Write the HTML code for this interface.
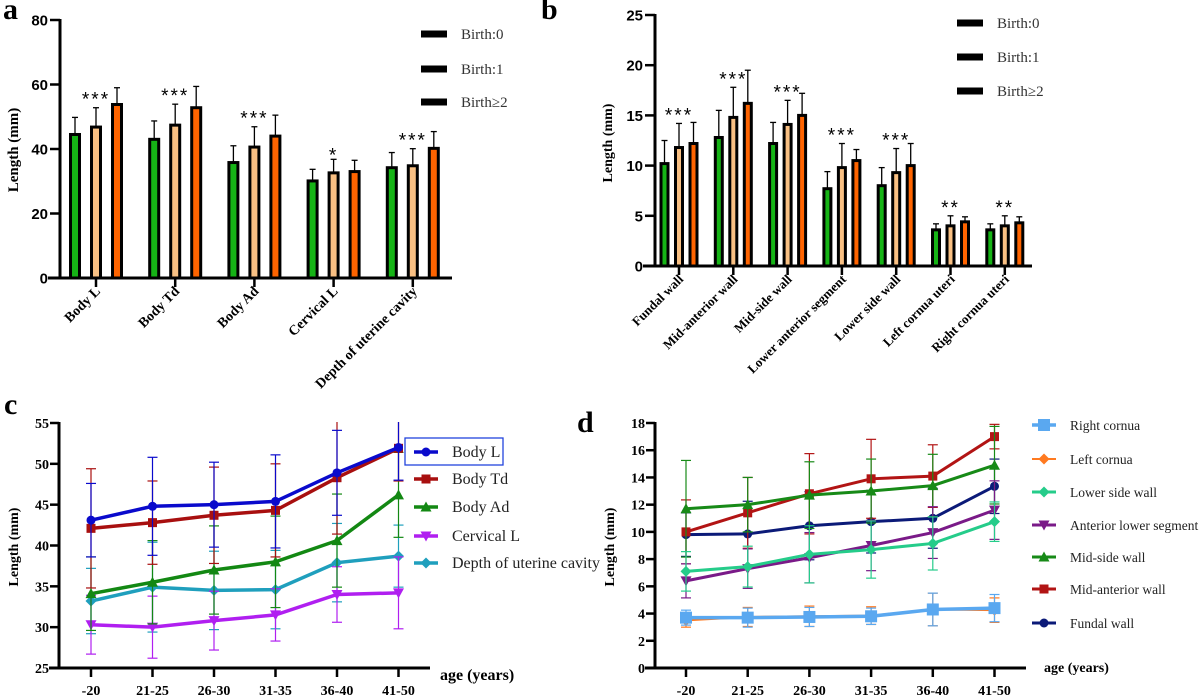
<!DOCTYPE html>
<html><head><meta charset="utf-8"><style>
body{margin:0;background:#fff}
svg{display:block}
.tk{font-family:"Liberation Sans",sans-serif;font-weight:bold}
.sf{font-family:"Liberation Serif",serif}
</style></head><body>
<svg id="s" width="1200" height="698" viewBox="0 0 1200 698" xmlns="http://www.w3.org/2000/svg"></svg>
<script>
// Panel a data
const aCats=["Body L","Body Td","Body Ad","Cervical L","Depth of uterine cavity"];
const aB0=[44.5,43,35.8,30.1,34.2];
const aB1=[46.8,47.4,40.6,32.6,34.8];
const aB2=[53.8,52.8,44,33,40.2];
const aE0=[5.3,5.7,5.2,3.6,4.7];
const aE1=[6,6.5,6.3,4.2,5.3];
const aE2=[5.2,6.6,6.5,3.5,5.2];
const aStars=["***","***","***","*","***"];
const aTicks=[0,20,40,60,80];
// Panel b data
const bCats=["Fundal wall","Mid-anterior wall","Mid-side wall","Lower anterior segment","Lower side wall","Left cornua uteri","Right cornua uteri"];
const bB0=[10.2,12.8,12.2,7.7,8,3.6,3.6];
const bB1=[11.8,14.8,14.1,9.8,9.3,4,4];
const bB2=[12.2,16.2,15,10.5,10,4.4,4.3];
const bE0=[2.3,2.7,2.1,1.7,1.8,0.6,0.6];
const bE1=[2.4,3,2.4,2.4,2.4,1,1];
const bE2=[2.1,3.3,2.2,1.1,2.2,0.5,0.6];
const bStars=["***","***","***","***","***","**","**"];
const bTicks=[0,5,10,15,20,25];
// Panel c data
const ages=["-20","21-25","26-30","31-35","36-40","41-50"];
const cNames=["Body L","Body Td","Body Ad","Cervical L","Depth of uterine cavity"];
const cBodyL=[43.1,44.8,45.0,45.4,48.9,52.0];
const cBodyLE=[4.5,6.0,5.2,5.7,5.2,4];
const cBodyTd=[42.1,42.8,43.7,44.3,48.3,51.9];
const cBodyTdE=[7.3,5.1,5.9,5.7,6.9,4];
const cBodyAd=[34.1,35.5,37.0,38.0,40.6,46.2];
const cBodyAdE=[4.5,5.1,5.4,5.6,5.7,5.2];
const cCerv=[30.3,30.0,30.8,31.5,34.0,34.2];
const cCervE=[3.6,3.8,3.6,3.2,3.4,4.4];
const cDepth=[33.2,34.9,34.5,34.6,37.9,38.7];
const cDepthE=[4,5.5,4.8,4.8,4.8,3.8];
const cTicks=[25,30,35,40,45,50,55];
// Panel d data
const dNames=["Right cornua","Left cornua","Lower side wall","Anterior lower segment","Mid-side wall","Mid-anterior wall","Fundal wall"];
const dRight=[3.7,3.7,3.75,3.8,4.3,4.4];
const dRightE=[0.55,0.7,0.7,0.6,1.2,1.0];
const dLeft=[3.5,3.75,3.8,3.85,4.3,4.25];
const dLeftE=[0.5,0.7,0.75,0.65,1.2,0.9];
const dLower=[7.1,7.45,8.35,8.7,9.15,10.75];
const dLowerE=[1.45,1.5,2.1,2.1,1.95,1.45];
const dAnt=[6.4,7.3,8.1,9.0,9.95,11.6];
const dAntE=[1.25,1.45,1.85,1.85,1.9,2.15];
const dMidS=[11.7,12.0,12.7,13.0,13.4,14.9];
const dMidSE=[3.55,2.0,2.45,2.35,2.3,2.85];
const dMidA=[10.0,11.4,12.8,13.9,14.1,17.0];
const dMidAE=[2.35,2.6,2.95,2.9,2.3,0.9];
const dFund=[9.8,9.85,10.45,10.75,11.0,13.35];
const dFundE=[1.6,2.4,2.5,2.3,2.2,2.0];
const dTicks=[0,2,4,6,8,10,12,14,16,18];

const S=document.getElementById('s');
const NS="http://www.w3.org/2000/svg";
function mk(tag,attrs,parent){const e=document.createElementNS(NS,tag);for(const k in attrs)e.setAttribute(k,attrs[k]);(parent||S).appendChild(e);return e;}
function txt(str,attrs,parent){const e=mk('text',attrs,parent);e.textContent=str;return e;}

// panel letters
[["a",3,19],["b",541,19],["c",4,414],["d",577,432]].forEach(p=>{
 const t=txt(p[0],{x:p[1],y:p[2],class:'sf','font-weight':'bold','font-size':'30'});
 
 
});

function yTitle(x,cy,size){const t=txt("Length (mm)",{x:x,y:cy,class:'sf','font-weight':'bold','font-size':size,'text-anchor':'middle',transform:`rotate(-90 ${x} ${cy})`});
 
 }

// ---------- bar panels ----------
function barPanel(cfg){
 const g=mk('g',{});
 
 
 const y=v=>cfg.y0-(v-cfg.min)/(cfg.max-cfg.min)*(cfg.y0-cfg.y1);
 const x=i=>cfg.x0+i*cfg.step;
 const cols=["#16b416","#f9c083","#ff6400"];
 const series=[cfg.s0,cfg.s1,cfg.s2], errs=[cfg.e0,cfg.e1,cfg.e2];
 cfg.cats.forEach((c,i)=>{
  series.forEach((s,k)=>{
   const cx=x(i)+(k-1)*cfg.off, top=y(s[i]), et=y(s[i]+errs[k][i]);
   const el=mk('line',{x1:cx,x2:cx,y1:top,y2:et,stroke:'#000','stroke-width':1.3},g);
   
   
   mk('line',{x1:cx-3,x2:cx+3,y1:et,y2:et,stroke:'#000','stroke-width':1.3},g);
   const r=mk('rect',{x:cx-cfg.bw/2+1.5,y:top,width:cfg.bw-3,height:cfg.y0-top,fill:cols[k],stroke:'#000','stroke-width':3},g);
   
   
  });
  const hi=Math.max(cfg.s1[i]+cfg.e1[i],cfg.s0[i]+cfg.e0[i]);
  const st=txt(cfg.stars[i],{x:x(i),y:y(hi)-2+(cfg.stars[i]=="*"?4:0),'text-anchor':'middle','font-family':'"Liberation Sans",sans-serif','font-size':19,'letter-spacing':'2'},g);
  
  
  mk('line',{x1:x(i),x2:x(i),y1:cfg.y0,y2:cfg.y0+9,stroke:'#000','stroke-width':2.5},g);
  const lx=x(i)+5, ly=cfg.y0+14;
  const lt=txt(c,{x:lx,y:ly,class:'sf','font-weight':'bold','font-size':cfg.fs,'text-anchor':'end',transform:`rotate(-45 ${lx} ${ly})`},g);
  
  
 });
 mk('line',{x1:cfg.ax,x2:cfg.ax,y1:cfg.y1-1,y2:cfg.y0+1.5,stroke:'#000','stroke-width':3},g);
 mk('line',{x1:cfg.ax-12,x2:cfg.xend,y1:cfg.y0,y2:cfg.y0,stroke:'#000','stroke-width':3},g);
 cfg.ticks.forEach(t=>{
  mk('line',{x1:cfg.ax-10,x2:cfg.ax,y1:y(t),y2:y(t),stroke:'#000','stroke-width':2.5},g);
  const tl=txt(t,{x:cfg.ax-12,y:y(t)+5.5,class:'tk','text-anchor':'end','font-size':15},g);
  
  
 });
 ["Birth:0","Birth:1","Birth≥2"].forEach((n,k)=>{
  const ly=cfg.ly[k];
  const lg=mk('g',{},g);
  
  
  mk('rect',{x:cfg.lx,y:ly-3.5,width:26,height:7,fill:'#000'},lg);
  txt(n,{x:cfg.lx+40,y:ly+5,class:'sf','font-size':15,fill:'#333'},lg);
 });
}
barPanel({name:'panel-a-bar-chart',cats:aCats,s0:aB0,s1:aB1,s2:aB2,e0:aE0,e1:aE1,e2:aE2,stars:aStars,ticks:aTicks,min:0,max:80,y0:278,y1:20,x0:96,step:79.2,off:21,bw:12,ax:60,xend:452,fs:14,lx:421,ly:[34,69,102]});
yTitle(18,150,15);
barPanel({name:'panel-b-bar-chart',cats:bCats,s0:bB0,s1:bB1,s2:bB2,e0:bE0,e1:bE1,e2:bE2,stars:bStars,ticks:bTicks,min:0,max:25,y0:266,y1:15,x0:679,step:54.3,off:14.5,bw:10,ax:655,xend:1032,fs:13,lx:957,ly:[23,57,91]});
yTitle(612,143,14);

// ---------- line panels ----------
function marker(g,type,cx,cy,col,sz){
 let e;
 if(type=='circle')e=mk('circle',{cx,cy,r:sz,fill:col},g);
 else if(type=='square')e=mk('rect',{x:cx-sz,y:cy-sz,width:2*sz,height:2*sz,fill:col},g);
 else if(type=='up')e=mk('polygon',{points:`${cx},${cy-sz-1} ${cx-sz-1},${cy+sz} ${cx+sz+1},${cy+sz}`,fill:col},g);
 else if(type=='down')e=mk('polygon',{points:`${cx},${cy+sz+1} ${cx-sz-1},${cy-sz} ${cx+sz+1},${cy-sz}`,fill:col},g);
 else e=mk('polygon',{points:`${cx},${cy-sz-1} ${cx+sz+1},${cy} ${cx},${cy+sz+1} ${cx-sz-1},${cy}`,fill:col},g);
 return e;
}
function linePanel(cfg){
 const g=mk('g',{});
 
 
 const y=v=>cfg.y0-(v-cfg.min)/(cfg.max-cfg.min)*(cfg.y0-cfg.y1);
 const x=i=>cfg.x0+i*cfg.step;
 const clip=v=>Math.max(cfg.y1-1,y(v));
 cfg.series.forEach(s=>{
  const sg=mk('g',{},g);
  
  
  s.v.forEach((v,i)=>{
   const t=clip(v+s.e[i]), b=y(v-s.e[i]);
   mk('line',{x1:x(i),x2:x(i),y1:t,y2:b,stroke:s.c,'stroke-width':1.2},sg);
   if(v+s.e[i]<=cfg.max) mk('line',{x1:x(i)-5,x2:x(i)+5,y1:t,y2:t,stroke:s.c,'stroke-width':1.2},sg);
   mk('line',{x1:x(i)-5,x2:x(i)+5,y1:b,y2:b,stroke:s.c,'stroke-width':1.2},sg);
  });
  mk('polyline',{points:s.v.map((v,i)=>x(i)+','+y(v)).join(' '),fill:'none',stroke:s.c,'stroke-width':s.w||3.5},sg);
  s.v.forEach((v,i)=>{const m=marker(sg,s.m,x(i),y(v),s.c,s.sz||4.5);
   
   });
 });
 mk('line',{x1:cfg.ax,x2:cfg.ax,y1:cfg.y1-1,y2:cfg.y0+1.5,stroke:'#000','stroke-width':3},g);
 mk('line',{x1:cfg.ax-10,x2:cfg.xend,y1:cfg.y0,y2:cfg.y0,stroke:'#000','stroke-width':3},g);
 cfg.ticks.forEach(t=>{
  mk('line',{x1:cfg.ax-9,x2:cfg.ax,y1:y(t),y2:y(t),stroke:'#000','stroke-width':2.5},g);
  const tl=txt(t,{x:cfg.ax-10,y:y(t)+5,class:'sf','font-weight':'bold','text-anchor':'end','font-size':14},g);
  
  
 });
 ages.forEach((a,i)=>{
  mk('line',{x1:x(i),x2:x(i),y1:cfg.y0,y2:cfg.y0+9,stroke:'#000','stroke-width':2.5},g);
  const tl=txt(a,{x:x(i),y:cfg.y0+27,class:'sf','font-weight':'bold','text-anchor':'middle','font-size':14},g);
  
  
 });
 const at=txt("age (years)",{x:cfg.atx,y:cfg.aty,class:'sf','font-weight':'bold','font-size':cfg.afs},g);
 
 
 cfg.series.forEach((s,k)=>{
  const ly=cfg.ly[cfg.order[k]];
  const lg=mk('g',{},g);
  
  
  mk('line',{x1:cfg.lx,x2:cfg.lx+24,y1:ly,y2:ly,stroke:s.c,'stroke-width':s.w||3.5},lg);
  marker(lg,s.m,cfg.lx+12,ly,s.c,s.sz||4.5);
  txt(s.n,{x:cfg.lx+38,y:ly+5,class:'sf','font-size':cfg.lfs,fill:'#222'},lg);
 });
 return g;
}
const gc=linePanel({name:'panel-c-line-chart',min:25,max:55,y0:668,y1:423,x0:91,step:61.5,ax:59,xend:430,ticks:cTicks,atx:440,aty:680,afs:16,lx:414,lfs:16,ly:[452,479,507,536,563],order:[4,3,2,1,0],
 series:[
  {n:cNames[4],v:cDepth,e:cDepthE,c:'#1f9fbd',m:'diamond'},
  {n:cNames[3],v:cCerv,e:cCervE,c:'#b01ff0',m:'down'},
  {n:cNames[2],v:cBodyAd,e:cBodyAdE,c:'#138813',m:'up'},
  {n:cNames[1],v:cBodyTd,e:cBodyTdE,c:'#a80f0f',m:'square'},
  {n:cNames[0],v:cBodyL,e:cBodyLE,c:'#0a0acc',m:'circle'}]});
const box=mk('rect',{x:405,y:438,width:98,height:27,fill:'none',stroke:'#2244dd','stroke-width':1.3},gc);


yTitle(18,547,14);
linePanel({name:'panel-d-line-chart',min:0,max:18,y0:668,y1:423,x0:686,step:61.7,ax:655,xend:1026,ticks:dTicks,atx:1044,aty:672,afs:14,lx:1032,lfs:13.5,ly:[425,459,492,525,557,589,623],order:[6,5,4,3,2,1,0],
 series:[
  {n:dNames[6],v:dFund,e:dFundE,c:'#0b1a78',m:'circle',w:3},
  {n:dNames[5],v:dMidA,e:dMidAE,c:'#b21414',m:'square',w:3},
  {n:dNames[4],v:dMidS,e:dMidSE,c:'#178a17',m:'up',w:3},
  {n:dNames[3],v:dAnt,e:dAntE,c:'#7a1a88',m:'down',w:3},
  {n:dNames[2],v:dLower,e:dLowerE,c:'#25cc8a',m:'diamond',w:3},
  {n:dNames[1],v:dLeft,e:dLeftE,c:'#ff7a20',m:'diamond',w:2},
  {n:dNames[0],v:dRight,e:dRightE,c:'#5aa8f0',m:'square',w:3.5,sz:6}]});
yTitle(614,547,14);
</script>
</body></html>
